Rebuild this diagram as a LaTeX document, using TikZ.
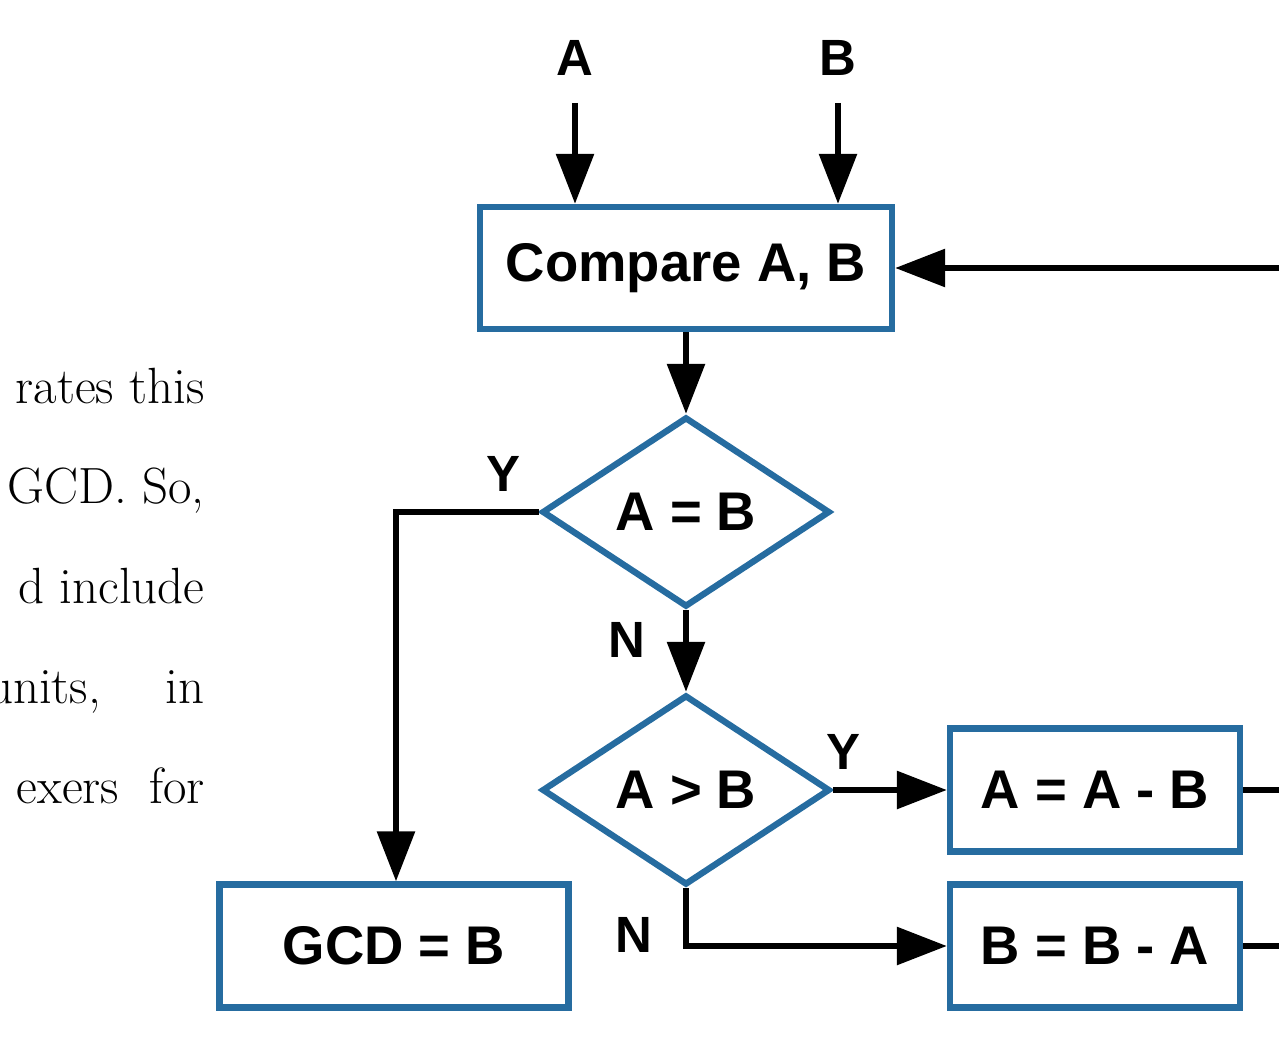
\documentclass[tikz,border=0pt]{standalone}
\usepackage{fontspec}
\newfontfamily\sansb{Liberation Sans}[BoldFont={* Bold}]
\usetikzlibrary{arrows.meta,shapes.geometric}
\definecolor{bl}{RGB}{38,108,160}
\begin{document}
\begin{tikzpicture}[x=0.02cm,y=-0.02cm,
  box/.style={draw=bl,line width=3.6pt,fill=white,inner sep=0pt,font=\sansb\bfseries\fontsize{31}{34}\selectfont},
  dia/.style={draw=bl,line width=3.6pt,diamond,aspect=1.5,inner sep=0pt,minimum width=288*0.02cm,minimum height=190*0.02cm,font=\sansb\bfseries\fontsize{31}{34}\selectfont},
  lab/.style={font=\sansb\bfseries\fontsize{29}{32}\selectfont},
  ar/.style={line width=3.4pt,-{Triangle[length=1cm,width=0.74cm]}},
  ln/.style={line width=3.4pt},
  txt/.style={anchor=base east,font=\fontsize{29}{30}\selectfont,inner sep=0pt}]
\useasboundingbox (0,0) rectangle (1279,1054);
\clip (0,0) rectangle (1279,1054);
\node[txt] (t1) at (205,403) {rates this};
\node[txt] (t2) at (205,503) {GCD. So,};
\node[txt] (t3) at (205,603) {d include};
\node[txt] (t4) at (205,703) {units,\hspace{1.3cm}in};
\node[txt] (t5) at (205,803) {exers\hspace{0.6cm}for};

\node[box,minimum width=412*0.02cm,minimum height=122*0.02cm] (cmp) at (686,268) {Compare A, B};
\node[dia] (eq) at (686,512) {A = B};
\node[dia] (gt) at (686,790) {A > B};
\node[box,minimum width=290*0.02cm,minimum height=123*0.02cm] (sa) at (1095,790) {A = A - B};
\node[box,minimum width=290*0.02cm,minimum height=123*0.02cm] (sb) at (1095,946) {B = B - A};
\node[box,minimum width=349*0.02cm,minimum height=123*0.02cm] (gcd) at (394,946) {GCD = B};

\node[lab] (la) at (575,58) {A};
\node[lab] (lb) at (838,58) {B};
\coordinate (a1) at (575,103);
\coordinate (b1) at (838,103);
\draw[ar] (a1) -- (a1 |- cmp.north);
\draw[ar] (b1) -- (b1 |- cmp.north);
\draw[ar] (cmp.south) -- (eq.north);
\draw[ar] (eq.south) -- (gt.north);
\coordinate (c1) at (396,512);
\draw[ar] (eq.west) -- (c1) -- (c1 |- gcd.north);
\draw[ar] (gt.east) -- (sa.west);
\coordinate (c2) at (686,946);
\draw[ar] (gt.south) -- (c2) -- (sb.west);
\coordinate (r1) at (1285,268);
\coordinate (r2) at (1285,790);
\coordinate (r3) at (1285,946);
\draw[ar] (r1) -- (cmp.east);
\draw[ln] (sa.east) -- (r2);
\draw[ln] (sb.east) -- (r3);
\node[lab] (y1) at (503,474) {Y};
\node[lab] (n1) at (627,640) {N};
\node[lab] (y2) at (843,752) {Y};
\node[lab] (n2) at (634,935) {N};
\end{tikzpicture}
\end{document}
